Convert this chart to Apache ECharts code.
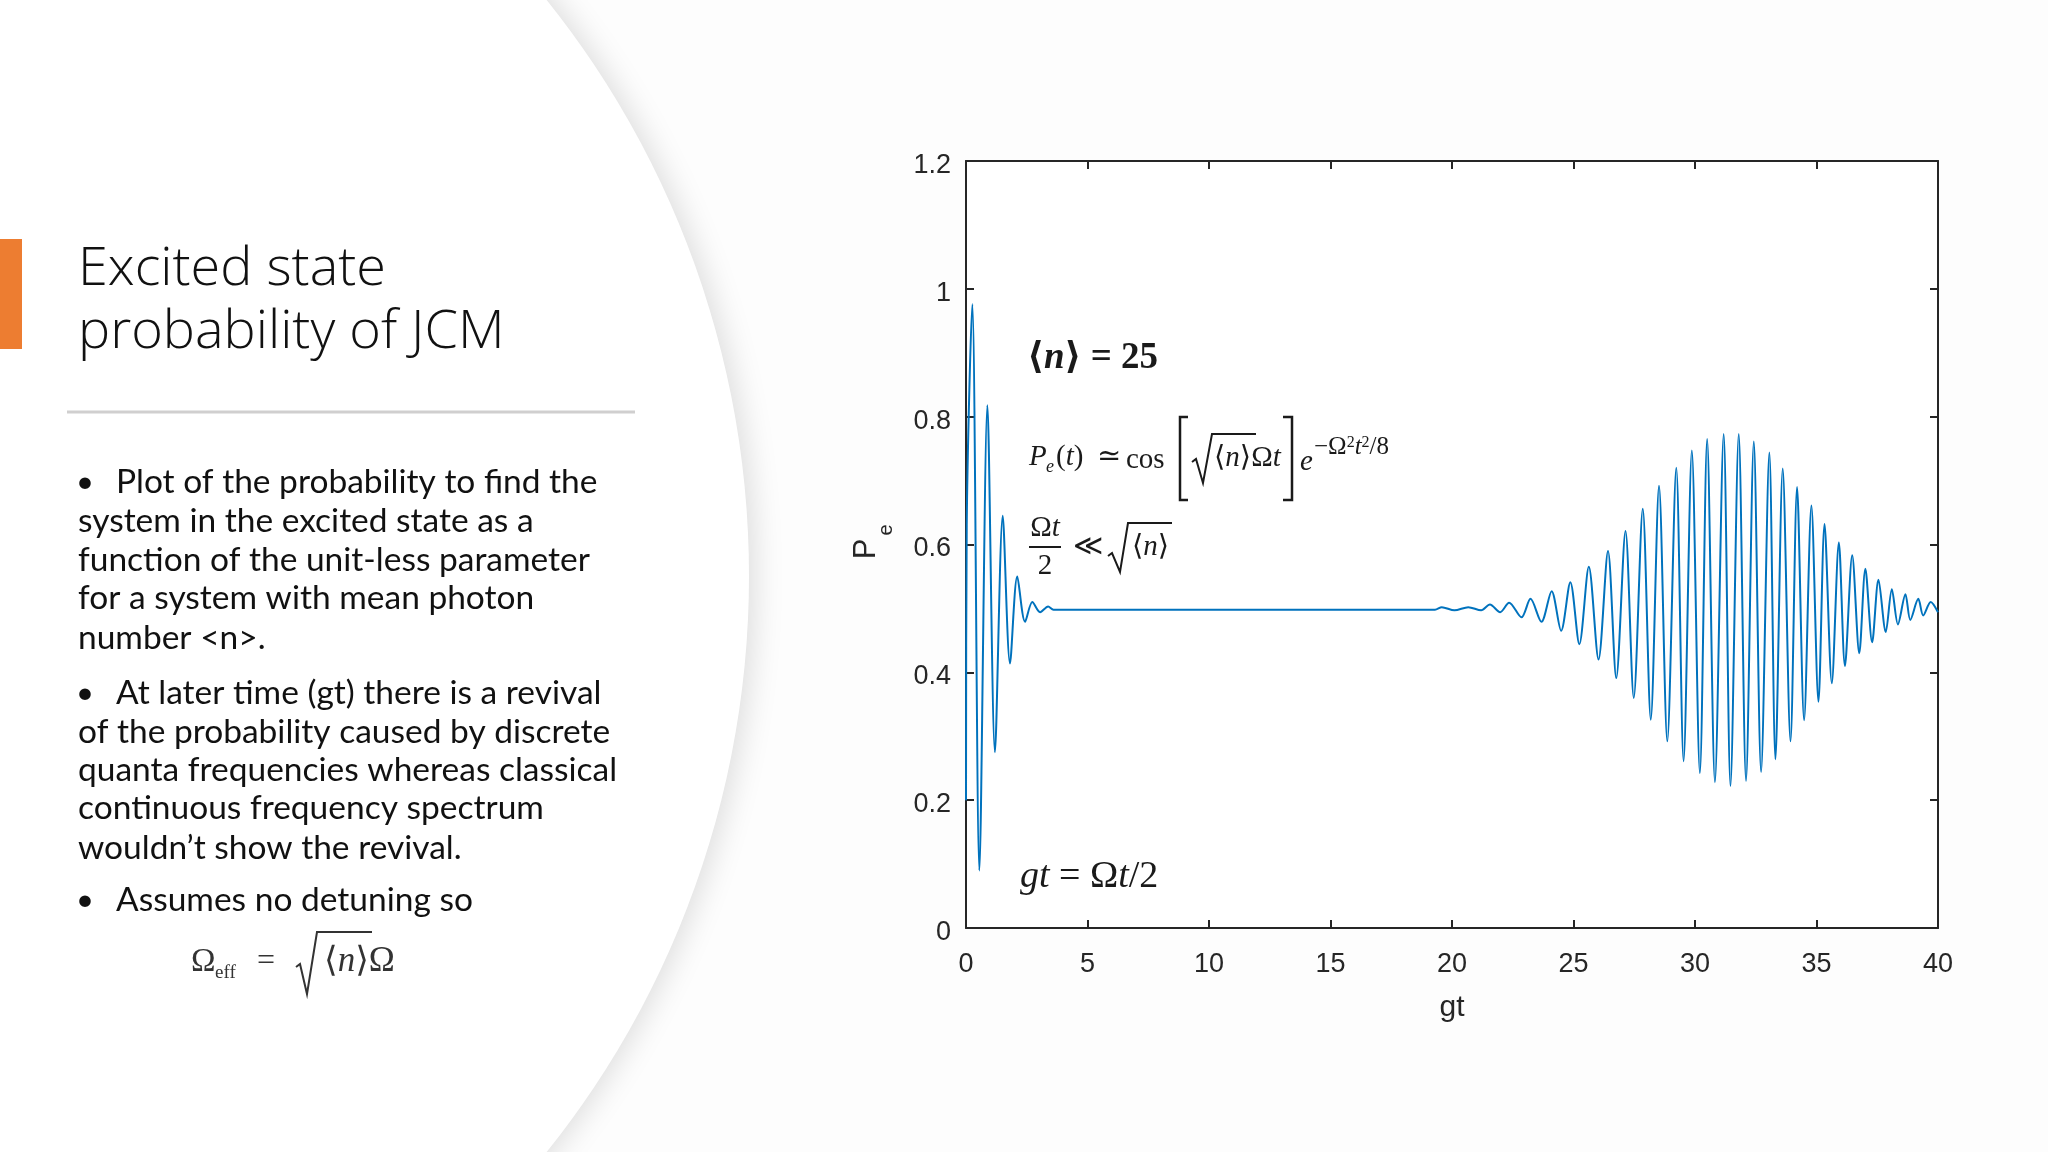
<!DOCTYPE html>
<html>
<head>
<meta charset="utf-8">
<title>Excited state probability of JCM</title>
<script src="https://cdn.jsdelivr.net/npm/echarts@6/dist/echarts.min.js"></script>
<style>
  html, body { margin: 0; padding: 0; background: #fdfdfd; }
  #main { width: 2048px; height: 1152px; }
</style>
</head>
<body>
<div id="main"></div>
<script>
// values (gt, Pe)
// collapse right after t = 0
const collapseGt = [0, 0.03, 0.26, 0.55, 0.88, 1.19, 1.51, 1.81, 2.11, 2.43, 2.73, 3.05, 3.38, 3.6];
const collapsePe = [0.2, 0.63, 0.976, 0.09, 0.818, 0.275, 0.645, 0.414, 0.55, 0.479, 0.51, 0.494, 0.503, 0.498];

// quiet stretch + first ripples
const quietGt = [19.3, 19.58, 20.1, 20.67, 21.2];
const quietPe = [0.498, 0.502, 0.497, 0.502, 0.497];

// revival, alternating peak / trough
const revivalGt = [21.56, 21.98, 22.35, 22.86, 23.23, 23.68, 24.10, 24.49, 24.87, 25.24,
  25.63, 26.03, 26.42, 26.76, 27.14, 27.48, 27.85, 28.18, 28.52, 28.86,
  29.23, 29.53, 29.87, 30.20, 30.50, 30.82, 31.18, 31.46, 31.80, 32.10,
  32.42, 32.72, 33.06, 33.31, 33.61, 33.93, 34.20, 34.49, 34.79, 35.08,
  35.33, 35.63, 35.92, 36.17, 36.47, 36.76, 37.01, 37.29, 37.55, 37.85,
  38.10, 38.35, 38.66, 38.86, 39.19, 39.39, 39.70, 40.0];
const revivalPe = [0.506, 0.494, 0.509, 0.486, 0.515, 0.479, 0.527, 0.465, 0.541, 0.444,
  0.565, 0.420, 0.590, 0.391, 0.621, 0.360, 0.656, 0.326, 0.692, 0.292,
  0.720, 0.261, 0.747, 0.242, 0.765, 0.228, 0.773, 0.222, 0.773, 0.230,
  0.761, 0.244, 0.744, 0.264, 0.719, 0.292, 0.690, 0.325, 0.661, 0.354,
  0.632, 0.383, 0.603, 0.410, 0.583, 0.430, 0.562, 0.447, 0.545, 0.463,
  0.530, 0.475, 0.522, 0.482, 0.515, 0.489, 0.510, 0.494];

const xRange = [0, 40], xStep = 5;
const yRange = [0, 1.2], yStep = 0.2;

const bodyLines = [
  ['•', 'Plot of the probability to find the'],
  ['', 'system in the excited state as a'],
  ['', 'function of the unit-less parameter'],
  ['', 'for a system with mean photon'],
  ['', 'number <n>.'],
  ['•', 'At later time (gt) there is a revival'],
  ['', 'of the probability caused by discrete'],
  ['', 'quanta frequencies whereas classical'],
  ['', 'continuous frequency spectrum'],
  ['', 'wouldn’t show the revival.'],
  ['•', 'Assumes no detuning so']
];
const bodyY = [482, 521, 560, 598, 638, 693, 732, 770, 808, 848, 900];

const SERIF = '"Liberation Serif", "DejaVu Serif", serif';
const SANS = '"Liberation Sans", Arial, sans-serif';
const BODY = 'Lato, "Open Sans", sans-serif';

const pts = [];
[[collapseGt, collapsePe], [quietGt, quietPe], [revivalGt, revivalPe]].forEach(function (p) {
  p[0].forEach(function (g, i) { pts.push([g, p[1][i]]); });
});

function txt(text, x, y, size, opt) {
  opt = opt || {};
  const col = opt.color || '#1a1a1a';
  const w = opt.weight || 'normal';
  const rich = {
    i: { fontStyle: 'italic', fontFamily: SERIF, fontSize: size, fontWeight: w, fill: col },
    r: { fontStyle: 'normal', fontFamily: SERIF, fontSize: size, fontWeight: w, fill: col },
    s: { fontStyle: 'normal', fontFamily: SERIF, fontSize: Math.round(size * 0.62), fontWeight: w, fill: col,
      verticalAlign: 'top', lineHeight: size }
  };
  return {
    type: 'text', x: x, y: y, z: 10, silent: true,
    scaleX: opt.scaleX || 1, rotation: opt.rotation || 0,
    style: {
      text: text, fontSize: size, fontFamily: opt.family || SERIF,
      fontStyle: opt.italic ? 'italic' : 'normal', fontWeight: w,
      fill: col, align: opt.align || 'left', verticalAlign: 'middle',
      rich: rich
    }
  };
}
function stroke(points, w, color) {
  return {
    type: 'polyline', z: 10, silent: true,
    shape: { points: points },
    style: { stroke: color || '#1a1a1a', lineWidth: w || 2, fill: null }
  };
}

const graphics = [
  // slide backdrop: white disc with soft edge
  { type: 'circle', z: -5, silent: true, shape: { cx: -172, cy: 576, r: 921 },
    style: { fill: '#ffffff', shadowBlur: 30, shadowColor: 'rgba(0,0,0,0.13)', shadowOffsetX: 6 } },
  { type: 'rect', z: 1, silent: true, shape: { x: 0, y: 239, width: 22, height: 110 }, style: { fill: '#ed7d31' } },
  txt('Excited state', 78, 270, 54, { family: '"Open Sans", sans-serif', weight: 300, color: '#111' }),
  txt('probability of JCM', 78, 333, 54, { family: '"Open Sans", sans-serif', weight: 300, color: '#111' }),
  stroke([[67, 412], [635, 412]], 3, '#d0cfcf'),

  // Omega_eff formula on the left
  txt('Ω', 191, 962, 33, { color: '#333' }),
  txt('eff', 215, 973, 19, { color: '#333' }),
  txt('=', 257, 962, 32, { color: '#333' }),
  stroke([[296, 967], [300, 964], [307, 994], [317, 932], [372, 932]], 2, '#333'),
  txt('{r|⟨}{i|n}{r|⟩Ω}', 324, 962, 35, { color: '#333' }),

  // <n> = 25
  txt('{r|⟨}{i|n}{r|⟩ = 25}', 1027, 358, 37, { weight: 'bold' }),

  // P_e(t) ~ cos[sqrt(<n>) Omega t] e^{-Omega^2 t^2 / 8}
  txt('P', 1029, 457, 29, { italic: true }),
  txt('e', 1046, 467, 18, { italic: true }),
  txt('{r|(}{i|t}{r|)}', 1056, 457, 29),
  txt('≃', 1097, 457, 29),
  txt('cos', 1126, 460, 29),
  stroke([[1188, 417], [1180, 417], [1180, 500], [1188, 500]], 2.5),
  stroke([[1192, 462], [1196, 459], [1203, 483], [1212, 434], [1256, 434]], 2),
  txt('{r|⟨}{i|n}{r|⟩Ω}{i|t}', 1214, 458, 29),
  stroke([[1283, 417], [1292, 417], [1292, 500], [1283, 500]], 2.5),
  txt('e', 1300, 462, 29, { italic: true }),
  txt('{r|−Ω}{s|2}{i|t}{s|2}{r|/8}', 1314, 447, 25),

  // Omega t / 2 << sqrt(<n>)
  txt('{r|Ω}{i|t}', 1045, 528, 29, { align: 'center' }),
  stroke([[1029, 547], [1061, 547]], 2),
  txt('2', 1045, 566, 29, { align: 'center' }),
  txt('≪', 1073, 547, 29),
  stroke([[1108, 556], [1112, 553], [1120, 572], [1128, 523], [1172, 523]], 2),
  txt('{r|⟨}{i|n}{r|⟩}', 1132, 547, 29),

  // gt = Omega t / 2
  txt('{i|gt}{r| = Ω}{i|t}{r|/2}', 1020, 877, 38),

  // y axis name P_e (rotated)
  txt('P', 866, 549, 31, { family: SANS, color: '#262626', align: 'center', rotation: Math.PI / 2 }),
  txt('e', 886, 530, 20, { family: SANS, color: '#262626', align: 'center', rotation: Math.PI / 2 })
];

bodyLines.forEach(function (l, i) {
  if (l[0]) graphics.push(txt('•', 85, bodyY[i], 31, { family: BODY, color: '#111', align: 'center' }));
  graphics.push(txt(l[1], l[0] ? 116 : 78, bodyY[i], 33.5, { family: BODY, color: '#111' }));
});

const axisLine = { show: true, onZero: false, lineStyle: { color: '#262626', width: 2 } };
const tickIn = { show: true, inside: true, length: 8, lineStyle: { color: '#262626', width: 2 } };

const chart = echarts.init(document.getElementById('main'), null, { renderer: 'canvas' });
chart.setOption({
  backgroundColor: '#fdfdfd',
  animation: false,
  grid: { left: 966, right: 110, top: 161, bottom: 224, containLabel: false, outerBoundsMode: 'none',
    show: true, backgroundColor: '#ffffff', borderWidth: 0 },
  xAxis: [
    { type: 'value', min: xRange[0], max: xRange[1], interval: xStep, position: 'bottom',
      name: 'gt', nameLocation: 'middle', nameGap: 65,
      nameTextStyle: { fontFamily: SANS, fontSize: 30, color: '#262626' },
      axisLine: axisLine, axisTick: tickIn, splitLine: { show: false },
      axisLabel: { margin: 23, fontFamily: SANS, fontSize: 27, color: '#262626' } },
    { type: 'value', min: xRange[0], max: xRange[1], interval: xStep, position: 'top',
      axisLine: axisLine, axisTick: tickIn, splitLine: { show: false }, axisLabel: { show: false } }
  ],
  yAxis: [
    { type: 'value', min: yRange[0], max: yRange[1], interval: yStep, position: 'left',
      axisLine: axisLine, axisTick: tickIn, splitLine: { show: false },
      axisLabel: { margin: 15, formatter: '{a|{value}}',
        rich: { a: { fontFamily: SANS, fontSize: 27, color: '#262626', padding: [9, 0, 0, 0] } } } },
    { type: 'value', min: yRange[0], max: yRange[1], interval: yStep, position: 'right',
      axisLine: axisLine, axisTick: tickIn, splitLine: { show: false }, axisLabel: { show: false } }
  ],
  series: [{
    type: 'line', data: pts, showSymbol: false, smooth: 0.3,
    lineStyle: { color: '#0072bd', width: 2 }, z: 3
  }],
  graphic: { elements: graphics }
});
</script>
</body>
</html>
